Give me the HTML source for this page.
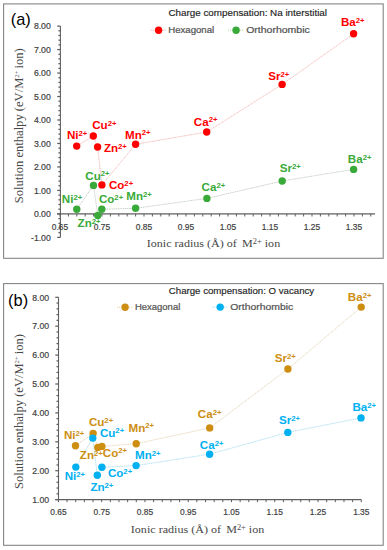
<!DOCTYPE html><html><head><meta charset="utf-8"><style>html,body{margin:0;padding:0;background:#fff;width:387px;height:550px;overflow:hidden}svg{display:block}</style></head><body>
<svg width="387" height="550" viewBox="0 0 387 550">
<rect width="387" height="550" fill="#fff"/>
<rect x="3.6" y="3.9" width="379.6" height="254.4" fill="#fff" stroke="#858585" stroke-width="1.1"/>
<text x="10.8" y="24.9" font-family='"Liberation Sans", sans-serif' font-size="16.4" fill="#000">(a)</text>
<text x="168.4" y="15.9" font-family='"Liberation Sans", sans-serif' font-size="9.8" fill="#222" stroke="#222" stroke-width="0.15" textLength="158.6" lengthAdjust="spacingAndGlyphs">Charge compensation: Na interstitial</text>
<line x1="150.6" y1="30.2" x2="166.6" y2="30.2" stroke="#f3a0a0" stroke-width="1" stroke-dasharray="1 1"/>
<circle cx="158.6" cy="30.2" r="3.7" fill="#ff0000"/>
<text x="168.2" y="33.4" font-family='"Liberation Sans", sans-serif' font-size="8.6" fill="#555" stroke="#555" stroke-width="0.22" textLength="46" lengthAdjust="spacingAndGlyphs">Hexagonal</text>
<line x1="228.1" y1="30.2" x2="244.1" y2="30.2" stroke="#a8d4a8" stroke-width="1" stroke-dasharray="1 1"/>
<circle cx="236.1" cy="30.2" r="3.7" fill="#39aa39"/>
<text x="246.2" y="33.4" font-family='"Liberation Sans", sans-serif' font-size="8.6" fill="#555" stroke="#555" stroke-width="0.22" textLength="63.6" lengthAdjust="spacingAndGlyphs">Orthorhombic</text>
<line x1="60.4" y1="26.099999999999994" x2="60.4" y2="237.375" stroke="#5f5f5f" stroke-width="1.1"/>
<line x1="57.199999999999996" y1="237.38" x2="60.4" y2="237.38" stroke="#5f5f5f" stroke-width="1.25"/>
<line x1="58.4" y1="232.68" x2="60.4" y2="232.68" stroke="#5f5f5f" stroke-width="1.25"/>
<line x1="58.4" y1="227.99" x2="60.4" y2="227.99" stroke="#5f5f5f" stroke-width="1.25"/>
<line x1="58.4" y1="223.29" x2="60.4" y2="223.29" stroke="#5f5f5f" stroke-width="1.25"/>
<line x1="58.4" y1="218.59" x2="60.4" y2="218.59" stroke="#5f5f5f" stroke-width="1.25"/>
<line x1="57.199999999999996" y1="213.90" x2="60.4" y2="213.90" stroke="#5f5f5f" stroke-width="1.25"/>
<line x1="58.4" y1="209.21" x2="60.4" y2="209.21" stroke="#5f5f5f" stroke-width="1.25"/>
<line x1="58.4" y1="204.51" x2="60.4" y2="204.51" stroke="#5f5f5f" stroke-width="1.25"/>
<line x1="58.4" y1="199.81" x2="60.4" y2="199.81" stroke="#5f5f5f" stroke-width="1.25"/>
<line x1="58.4" y1="195.12" x2="60.4" y2="195.12" stroke="#5f5f5f" stroke-width="1.25"/>
<line x1="57.199999999999996" y1="190.43" x2="60.4" y2="190.43" stroke="#5f5f5f" stroke-width="1.25"/>
<line x1="58.4" y1="185.73" x2="60.4" y2="185.73" stroke="#5f5f5f" stroke-width="1.25"/>
<line x1="58.4" y1="181.03" x2="60.4" y2="181.03" stroke="#5f5f5f" stroke-width="1.25"/>
<line x1="58.4" y1="176.34" x2="60.4" y2="176.34" stroke="#5f5f5f" stroke-width="1.25"/>
<line x1="58.4" y1="171.64" x2="60.4" y2="171.64" stroke="#5f5f5f" stroke-width="1.25"/>
<line x1="57.199999999999996" y1="166.95" x2="60.4" y2="166.95" stroke="#5f5f5f" stroke-width="1.25"/>
<line x1="58.4" y1="162.25" x2="60.4" y2="162.25" stroke="#5f5f5f" stroke-width="1.25"/>
<line x1="58.4" y1="157.56" x2="60.4" y2="157.56" stroke="#5f5f5f" stroke-width="1.25"/>
<line x1="58.4" y1="152.87" x2="60.4" y2="152.87" stroke="#5f5f5f" stroke-width="1.25"/>
<line x1="58.4" y1="148.17" x2="60.4" y2="148.17" stroke="#5f5f5f" stroke-width="1.25"/>
<line x1="57.199999999999996" y1="143.47" x2="60.4" y2="143.47" stroke="#5f5f5f" stroke-width="1.25"/>
<line x1="58.4" y1="138.78" x2="60.4" y2="138.78" stroke="#5f5f5f" stroke-width="1.25"/>
<line x1="58.4" y1="134.08" x2="60.4" y2="134.08" stroke="#5f5f5f" stroke-width="1.25"/>
<line x1="58.4" y1="129.39" x2="60.4" y2="129.39" stroke="#5f5f5f" stroke-width="1.25"/>
<line x1="58.4" y1="124.69" x2="60.4" y2="124.69" stroke="#5f5f5f" stroke-width="1.25"/>
<line x1="57.199999999999996" y1="120.00" x2="60.4" y2="120.00" stroke="#5f5f5f" stroke-width="1.25"/>
<line x1="58.4" y1="115.30" x2="60.4" y2="115.30" stroke="#5f5f5f" stroke-width="1.25"/>
<line x1="58.4" y1="110.61" x2="60.4" y2="110.61" stroke="#5f5f5f" stroke-width="1.25"/>
<line x1="58.4" y1="105.91" x2="60.4" y2="105.91" stroke="#5f5f5f" stroke-width="1.25"/>
<line x1="58.4" y1="101.22" x2="60.4" y2="101.22" stroke="#5f5f5f" stroke-width="1.25"/>
<line x1="57.199999999999996" y1="96.53" x2="60.4" y2="96.53" stroke="#5f5f5f" stroke-width="1.25"/>
<line x1="58.4" y1="91.83" x2="60.4" y2="91.83" stroke="#5f5f5f" stroke-width="1.25"/>
<line x1="58.4" y1="87.13" x2="60.4" y2="87.13" stroke="#5f5f5f" stroke-width="1.25"/>
<line x1="58.4" y1="82.44" x2="60.4" y2="82.44" stroke="#5f5f5f" stroke-width="1.25"/>
<line x1="58.4" y1="77.74" x2="60.4" y2="77.74" stroke="#5f5f5f" stroke-width="1.25"/>
<line x1="57.199999999999996" y1="73.05" x2="60.4" y2="73.05" stroke="#5f5f5f" stroke-width="1.25"/>
<line x1="58.4" y1="68.35" x2="60.4" y2="68.35" stroke="#5f5f5f" stroke-width="1.25"/>
<line x1="58.4" y1="63.66" x2="60.4" y2="63.66" stroke="#5f5f5f" stroke-width="1.25"/>
<line x1="58.4" y1="58.96" x2="60.4" y2="58.96" stroke="#5f5f5f" stroke-width="1.25"/>
<line x1="58.4" y1="54.27" x2="60.4" y2="54.27" stroke="#5f5f5f" stroke-width="1.25"/>
<line x1="57.199999999999996" y1="49.57" x2="60.4" y2="49.57" stroke="#5f5f5f" stroke-width="1.25"/>
<line x1="58.4" y1="44.88" x2="60.4" y2="44.88" stroke="#5f5f5f" stroke-width="1.25"/>
<line x1="58.4" y1="40.18" x2="60.4" y2="40.18" stroke="#5f5f5f" stroke-width="1.25"/>
<line x1="58.4" y1="35.49" x2="60.4" y2="35.49" stroke="#5f5f5f" stroke-width="1.25"/>
<line x1="58.4" y1="30.79" x2="60.4" y2="30.79" stroke="#5f5f5f" stroke-width="1.25"/>
<line x1="57.199999999999996" y1="26.10" x2="60.4" y2="26.10" stroke="#5f5f5f" stroke-width="1.25"/>
<text x="50.8" y="240.57" text-anchor="end" font-family='"Liberation Sans", sans-serif' font-size="8.7" fill="#404040" stroke="#404040" stroke-width="0.18">-1.00</text>
<text x="50.8" y="217.10" text-anchor="end" font-family='"Liberation Sans", sans-serif' font-size="8.7" fill="#404040" stroke="#404040" stroke-width="0.18">0.00</text>
<text x="50.8" y="193.62" text-anchor="end" font-family='"Liberation Sans", sans-serif' font-size="8.7" fill="#404040" stroke="#404040" stroke-width="0.18">1.00</text>
<text x="50.8" y="170.15" text-anchor="end" font-family='"Liberation Sans", sans-serif' font-size="8.7" fill="#404040" stroke="#404040" stroke-width="0.18">2.00</text>
<text x="50.8" y="146.67" text-anchor="end" font-family='"Liberation Sans", sans-serif' font-size="8.7" fill="#404040" stroke="#404040" stroke-width="0.18">3.00</text>
<text x="50.8" y="123.20" text-anchor="end" font-family='"Liberation Sans", sans-serif' font-size="8.7" fill="#404040" stroke="#404040" stroke-width="0.18">4.00</text>
<text x="50.8" y="99.73" text-anchor="end" font-family='"Liberation Sans", sans-serif' font-size="8.7" fill="#404040" stroke="#404040" stroke-width="0.18">5.00</text>
<text x="50.8" y="76.25" text-anchor="end" font-family='"Liberation Sans", sans-serif' font-size="8.7" fill="#404040" stroke="#404040" stroke-width="0.18">6.00</text>
<text x="50.8" y="52.77" text-anchor="end" font-family='"Liberation Sans", sans-serif' font-size="8.7" fill="#404040" stroke="#404040" stroke-width="0.18">7.00</text>
<text x="50.8" y="29.30" text-anchor="end" font-family='"Liberation Sans", sans-serif' font-size="8.7" fill="#404040" stroke="#404040" stroke-width="0.18">8.00</text>
<line x1="57" y1="213.9" x2="374.99999999999994" y2="213.9" stroke="#5f5f5f" stroke-width="1.15"/>
<line x1="60.00" y1="213.9" x2="60.00" y2="216.5" stroke="#5f5f5f" stroke-width="1"/>
<line x1="68.40" y1="213.9" x2="68.40" y2="216.5" stroke="#5f5f5f" stroke-width="1"/>
<line x1="76.80" y1="213.9" x2="76.80" y2="216.5" stroke="#5f5f5f" stroke-width="1"/>
<line x1="85.20" y1="213.9" x2="85.20" y2="216.5" stroke="#5f5f5f" stroke-width="1"/>
<line x1="93.60" y1="213.9" x2="93.60" y2="216.5" stroke="#5f5f5f" stroke-width="1"/>
<line x1="102.00" y1="213.9" x2="102.00" y2="216.5" stroke="#5f5f5f" stroke-width="1"/>
<line x1="110.40" y1="213.9" x2="110.40" y2="216.5" stroke="#5f5f5f" stroke-width="1"/>
<line x1="118.80" y1="213.9" x2="118.80" y2="216.5" stroke="#5f5f5f" stroke-width="1"/>
<line x1="127.20" y1="213.9" x2="127.20" y2="216.5" stroke="#5f5f5f" stroke-width="1"/>
<line x1="135.60" y1="213.9" x2="135.60" y2="216.5" stroke="#5f5f5f" stroke-width="1"/>
<line x1="144.00" y1="213.9" x2="144.00" y2="216.5" stroke="#5f5f5f" stroke-width="1"/>
<line x1="152.40" y1="213.9" x2="152.40" y2="216.5" stroke="#5f5f5f" stroke-width="1"/>
<line x1="160.80" y1="213.9" x2="160.80" y2="216.5" stroke="#5f5f5f" stroke-width="1"/>
<line x1="169.20" y1="213.9" x2="169.20" y2="216.5" stroke="#5f5f5f" stroke-width="1"/>
<line x1="177.60" y1="213.9" x2="177.60" y2="216.5" stroke="#5f5f5f" stroke-width="1"/>
<line x1="186.00" y1="213.9" x2="186.00" y2="216.5" stroke="#5f5f5f" stroke-width="1"/>
<line x1="194.40" y1="213.9" x2="194.40" y2="216.5" stroke="#5f5f5f" stroke-width="1"/>
<line x1="202.80" y1="213.9" x2="202.80" y2="216.5" stroke="#5f5f5f" stroke-width="1"/>
<line x1="211.20" y1="213.9" x2="211.20" y2="216.5" stroke="#5f5f5f" stroke-width="1"/>
<line x1="219.60" y1="213.9" x2="219.60" y2="216.5" stroke="#5f5f5f" stroke-width="1"/>
<line x1="228.00" y1="213.9" x2="228.00" y2="216.5" stroke="#5f5f5f" stroke-width="1"/>
<line x1="236.40" y1="213.9" x2="236.40" y2="216.5" stroke="#5f5f5f" stroke-width="1"/>
<line x1="244.80" y1="213.9" x2="244.80" y2="216.5" stroke="#5f5f5f" stroke-width="1"/>
<line x1="253.20" y1="213.9" x2="253.20" y2="216.5" stroke="#5f5f5f" stroke-width="1"/>
<line x1="261.60" y1="213.9" x2="261.60" y2="216.5" stroke="#5f5f5f" stroke-width="1"/>
<line x1="270.00" y1="213.9" x2="270.00" y2="216.5" stroke="#5f5f5f" stroke-width="1"/>
<line x1="278.40" y1="213.9" x2="278.40" y2="216.5" stroke="#5f5f5f" stroke-width="1"/>
<line x1="286.80" y1="213.9" x2="286.80" y2="216.5" stroke="#5f5f5f" stroke-width="1"/>
<line x1="295.20" y1="213.9" x2="295.20" y2="216.5" stroke="#5f5f5f" stroke-width="1"/>
<line x1="303.60" y1="213.9" x2="303.60" y2="216.5" stroke="#5f5f5f" stroke-width="1"/>
<line x1="312.00" y1="213.9" x2="312.00" y2="216.5" stroke="#5f5f5f" stroke-width="1"/>
<line x1="320.40" y1="213.9" x2="320.40" y2="216.5" stroke="#5f5f5f" stroke-width="1"/>
<line x1="328.80" y1="213.9" x2="328.80" y2="216.5" stroke="#5f5f5f" stroke-width="1"/>
<line x1="337.20" y1="213.9" x2="337.20" y2="216.5" stroke="#5f5f5f" stroke-width="1"/>
<line x1="345.60" y1="213.9" x2="345.60" y2="216.5" stroke="#5f5f5f" stroke-width="1"/>
<line x1="354.00" y1="213.9" x2="354.00" y2="216.5" stroke="#5f5f5f" stroke-width="1"/>
<line x1="362.40" y1="213.9" x2="362.40" y2="216.5" stroke="#5f5f5f" stroke-width="1"/>
<line x1="370.80" y1="213.9" x2="370.80" y2="216.5" stroke="#5f5f5f" stroke-width="1"/>
<text x="60.00" y="229.8" text-anchor="middle" font-family='"Liberation Sans", sans-serif' font-size="8.4" fill="#404040" stroke="#404040" stroke-width="0.18">0.65</text>
<text x="102.00" y="229.8" text-anchor="middle" font-family='"Liberation Sans", sans-serif' font-size="8.4" fill="#404040" stroke="#404040" stroke-width="0.18">0.75</text>
<text x="144.00" y="229.8" text-anchor="middle" font-family='"Liberation Sans", sans-serif' font-size="8.4" fill="#404040" stroke="#404040" stroke-width="0.18">0.85</text>
<text x="186.00" y="229.8" text-anchor="middle" font-family='"Liberation Sans", sans-serif' font-size="8.4" fill="#404040" stroke="#404040" stroke-width="0.18">0.95</text>
<text x="228.00" y="229.8" text-anchor="middle" font-family='"Liberation Sans", sans-serif' font-size="8.4" fill="#404040" stroke="#404040" stroke-width="0.18">1.05</text>
<text x="270.00" y="229.8" text-anchor="middle" font-family='"Liberation Sans", sans-serif' font-size="8.4" fill="#404040" stroke="#404040" stroke-width="0.18">1.15</text>
<text x="312.00" y="229.8" text-anchor="middle" font-family='"Liberation Sans", sans-serif' font-size="8.4" fill="#404040" stroke="#404040" stroke-width="0.18">1.25</text>
<text x="354.00" y="229.8" text-anchor="middle" font-family='"Liberation Sans", sans-serif' font-size="8.4" fill="#404040" stroke="#404040" stroke-width="0.18">1.35</text>
<text x="146.7" y="247" font-family='"Liberation Serif", serif' font-size="11" fill="#474747" style="white-space:pre" textLength="133.5" lengthAdjust="spacingAndGlyphs">Ionic radius (Å) of <tspan dx="2">M</tspan><tspan font-size="7.6" dy="-3.3">2+</tspan><tspan dy="3.3"> ion</tspan></text>
<text transform="translate(23,203.3) rotate(-90)" x="0" y="0" font-family='"Liberation Serif", serif' font-size="12" fill="#474747" textLength="155" lengthAdjust="spacingAndGlyphs">Solution enthalpy (eV/M<tspan font-size="6.3" dy="-3.6">2+</tspan><tspan dy="3.6" dx="2">ion)</tspan></text>
<polyline points="76.7,146.1 93.3,136.0 97.6,147.0 101.9,184.9 135.6,144.3 206.7,132.0 282.1,84.4 353.6,33.8" fill="none" stroke="#f3b4b4" stroke-width="0.9" stroke-dasharray="1.2 0.6"/>
<polyline points="76.8,209.2 93.5,185.4 97.8,215.5 101.8,209.2 135.6,208.3 206.9,198.4 282.2,181.0 353.6,169.4" fill="none" stroke="#c0ccc0" stroke-width="0.9" stroke-dasharray="1.2 0.6"/>
<circle cx="76.7" cy="146.1" r="3.7" fill="#ff0000"/>
<circle cx="93.3" cy="136.0" r="3.7" fill="#ff0000"/>
<circle cx="97.6" cy="147.0" r="3.7" fill="#ff0000"/>
<circle cx="101.9" cy="184.9" r="3.7" fill="#ff0000"/>
<circle cx="135.6" cy="144.3" r="3.7" fill="#ff0000"/>
<circle cx="206.7" cy="132.0" r="3.7" fill="#ff0000"/>
<circle cx="282.1" cy="84.4" r="3.7" fill="#ff0000"/>
<circle cx="353.6" cy="33.8" r="3.7" fill="#ff0000"/>
<circle cx="76.8" cy="209.2" r="3.7" fill="#39aa39"/>
<circle cx="93.5" cy="185.4" r="3.7" fill="#39aa39"/>
<circle cx="97.8" cy="215.5" r="3.7" fill="#39aa39"/>
<circle cx="101.8" cy="209.2" r="3.7" fill="#39aa39"/>
<circle cx="135.6" cy="208.3" r="3.7" fill="#39aa39"/>
<circle cx="206.9" cy="198.4" r="3.7" fill="#39aa39"/>
<circle cx="282.2" cy="181.0" r="3.7" fill="#39aa39"/>
<circle cx="353.6" cy="169.4" r="3.7" fill="#39aa39"/>
<text x="66.9" y="138.7" fill="#ff0000" font-family='"Liberation Sans", sans-serif' font-weight="bold" font-size="11.6">Ni</text>
<text x="66.9" y="138.7" fill="#ff0000" font-family='"Liberation Sans", sans-serif' font-weight="bold" font-size="11.6"><tspan visibility="hidden">Ni</tspan><tspan font-size="7.7" dy="-3.2">2+</tspan></text>
<text x="92.2" y="128.7" fill="#ff0000" font-family='"Liberation Sans", sans-serif' font-weight="bold" font-size="11.6">Cu</text>
<text x="92.2" y="128.7" fill="#ff0000" font-family='"Liberation Sans", sans-serif' font-weight="bold" font-size="11.6"><tspan visibility="hidden">Cu</tspan><tspan font-size="7.7" dy="-3.2">2+</tspan></text>
<text x="103.9" y="151.7" fill="#ff0000" font-family='"Liberation Sans", sans-serif' font-weight="bold" font-size="11.6">Zn</text>
<text x="103.9" y="151.7" fill="#ff0000" font-family='"Liberation Sans", sans-serif' font-weight="bold" font-size="11.6"><tspan visibility="hidden">Zn</tspan><tspan font-size="7.7" dy="-3.2">2+</tspan></text>
<text x="108.9" y="188.9" fill="#ff0000" font-family='"Liberation Sans", sans-serif' font-weight="bold" font-size="11.6">Co</text>
<text x="108.9" y="188.9" fill="#ff0000" font-family='"Liberation Sans", sans-serif' font-weight="bold" font-size="11.6"><tspan visibility="hidden">Co</tspan><tspan font-size="7.7" dy="-3.2">2+</tspan></text>
<text x="125.1" y="138.6" fill="#ff0000" font-family='"Liberation Sans", sans-serif' font-weight="bold" font-size="11.6">Mn</text>
<text x="125.1" y="138.6" fill="#ff0000" font-family='"Liberation Sans", sans-serif' font-weight="bold" font-size="11.6"><tspan visibility="hidden">Mn</tspan><tspan font-size="7.7" dy="-3.2">2+</tspan></text>
<text x="193.8" y="125.6" fill="#ff0000" font-family='"Liberation Sans", sans-serif' font-weight="bold" font-size="11.6">Ca</text>
<text x="193.8" y="125.6" fill="#ff0000" font-family='"Liberation Sans", sans-serif' font-weight="bold" font-size="11.6"><tspan visibility="hidden">Ca</tspan><tspan font-size="7.7" dy="-3.2">2+</tspan></text>
<text x="268.3" y="80" fill="#ff0000" font-family='"Liberation Sans", sans-serif' font-weight="bold" font-size="11.6">Sr</text>
<text x="268.3" y="80" fill="#ff0000" font-family='"Liberation Sans", sans-serif' font-weight="bold" font-size="11.6"><tspan visibility="hidden">Sr</tspan><tspan font-size="7.7" dy="-3.2">2+</tspan></text>
<text x="341" y="26.2" fill="#ff0000" font-family='"Liberation Sans", sans-serif' font-weight="bold" font-size="11.6">Ba</text>
<text x="341" y="26.2" fill="#ff0000" font-family='"Liberation Sans", sans-serif' font-weight="bold" font-size="11.6"><tspan visibility="hidden">Ba</tspan><tspan font-size="7.7" dy="-3.2">2+</tspan></text>
<text x="61.8" y="203.3" fill="#39aa39" font-family='"Liberation Sans", sans-serif' font-weight="bold" font-size="11.6">Ni</text>
<text x="61.8" y="203.3" fill="#39aa39" font-family='"Liberation Sans", sans-serif' font-weight="bold" font-size="11.6"><tspan visibility="hidden">Ni</tspan><tspan font-size="7.7" dy="-3.2">2+</tspan></text>
<text x="85.3" y="179.6" fill="#39aa39" font-family='"Liberation Sans", sans-serif' font-weight="bold" font-size="11.6">Cu</text>
<text x="85.3" y="179.6" fill="#39aa39" font-family='"Liberation Sans", sans-serif' font-weight="bold" font-size="11.6"><tspan visibility="hidden">Cu</tspan><tspan font-size="7.7" dy="-3.2">2+</tspan></text>
<text x="77.6" y="226.7" fill="#39aa39" font-family='"Liberation Sans", sans-serif' font-weight="bold" font-size="11.6">Zn</text>
<text x="77.6" y="226.7" fill="#39aa39" font-family='"Liberation Sans", sans-serif' font-weight="bold" font-size="11.6"><tspan visibility="hidden">Zn</tspan><tspan font-size="7.7" dy="-3.2">2+</tspan></text>
<text x="98.9" y="203.3" fill="#39aa39" font-family='"Liberation Sans", sans-serif' font-weight="bold" font-size="11.6">Co</text>
<text x="98.9" y="203.3" fill="#39aa39" font-family='"Liberation Sans", sans-serif' font-weight="bold" font-size="11.6"><tspan visibility="hidden">Co</tspan><tspan font-size="7.7" dy="-3.2">2+</tspan></text>
<text x="126.3" y="200.1" fill="#39aa39" font-family='"Liberation Sans", sans-serif' font-weight="bold" font-size="11.6">Mn</text>
<text x="126.3" y="200.1" fill="#39aa39" font-family='"Liberation Sans", sans-serif' font-weight="bold" font-size="11.6"><tspan visibility="hidden">Mn</tspan><tspan font-size="7.7" dy="-3.2">2+</tspan></text>
<text x="201.6" y="191.1" fill="#39aa39" font-family='"Liberation Sans", sans-serif' font-weight="bold" font-size="11.6">Ca</text>
<text x="201.6" y="191.1" fill="#39aa39" font-family='"Liberation Sans", sans-serif' font-weight="bold" font-size="11.6"><tspan visibility="hidden">Ca</tspan><tspan font-size="7.7" dy="-3.2">2+</tspan></text>
<text x="279.8" y="172.2" fill="#39aa39" font-family='"Liberation Sans", sans-serif' font-weight="bold" font-size="11.6">Sr</text>
<text x="279.8" y="172.2" fill="#39aa39" font-family='"Liberation Sans", sans-serif' font-weight="bold" font-size="11.6"><tspan visibility="hidden">Sr</tspan><tspan font-size="7.7" dy="-3.2">2+</tspan></text>
<text x="347.8" y="162.8" fill="#39aa39" font-family='"Liberation Sans", sans-serif' font-weight="bold" font-size="11.6">Ba</text>
<text x="347.8" y="162.8" fill="#39aa39" font-family='"Liberation Sans", sans-serif' font-weight="bold" font-size="11.6"><tspan visibility="hidden">Ba</tspan><tspan font-size="7.7" dy="-3.2">2+</tspan></text>
<rect x="3.6" y="283.6" width="379.6" height="261.69999999999993" fill="#fff" stroke="#858585" stroke-width="1.1"/>
<text x="8.1" y="306.4" font-family='"Liberation Sans", sans-serif' font-size="16.4" fill="#000">(b)</text>
<text x="168.8" y="294.1" font-family='"Liberation Sans", sans-serif' font-size="9.8" fill="#222" stroke="#222" stroke-width="0.15" textLength="145.4" lengthAdjust="spacingAndGlyphs">Charge compensation: O vacancy</text>
<line x1="117.1" y1="307.2" x2="133.1" y2="307.2" stroke="#e6c98a" stroke-width="1" stroke-dasharray="1 1"/>
<circle cx="125.1" cy="307.2" r="3.7" fill="#cd8e12"/>
<text x="134.9" y="310.4" font-family='"Liberation Sans", sans-serif' font-size="8.6" fill="#555" stroke="#555" stroke-width="0.22" textLength="45.4" lengthAdjust="spacingAndGlyphs">Hexagonal</text>
<line x1="212.2" y1="307.1" x2="228.2" y2="307.1" stroke="#8fd8f5" stroke-width="1" stroke-dasharray="1 1"/>
<circle cx="220.2" cy="307.1" r="3.7" fill="#00b0f0"/>
<text x="230.3" y="310.3" font-family='"Liberation Sans", sans-serif' font-size="8.6" fill="#555" stroke="#555" stroke-width="0.22" textLength="62.9" lengthAdjust="spacingAndGlyphs">Orthorhombic</text>
<line x1="58.5" y1="297.3" x2="58.5" y2="499.6" stroke="#5f5f5f" stroke-width="1.1"/>
<line x1="55.3" y1="499.60" x2="58.5" y2="499.60" stroke="#5f5f5f" stroke-width="1.25"/>
<line x1="56.5" y1="493.82" x2="58.5" y2="493.82" stroke="#5f5f5f" stroke-width="1.25"/>
<line x1="56.5" y1="488.04" x2="58.5" y2="488.04" stroke="#5f5f5f" stroke-width="1.25"/>
<line x1="56.5" y1="482.26" x2="58.5" y2="482.26" stroke="#5f5f5f" stroke-width="1.25"/>
<line x1="56.5" y1="476.48" x2="58.5" y2="476.48" stroke="#5f5f5f" stroke-width="1.25"/>
<line x1="55.3" y1="470.70" x2="58.5" y2="470.70" stroke="#5f5f5f" stroke-width="1.25"/>
<line x1="56.5" y1="464.92" x2="58.5" y2="464.92" stroke="#5f5f5f" stroke-width="1.25"/>
<line x1="56.5" y1="459.14" x2="58.5" y2="459.14" stroke="#5f5f5f" stroke-width="1.25"/>
<line x1="56.5" y1="453.36" x2="58.5" y2="453.36" stroke="#5f5f5f" stroke-width="1.25"/>
<line x1="56.5" y1="447.58" x2="58.5" y2="447.58" stroke="#5f5f5f" stroke-width="1.25"/>
<line x1="55.3" y1="441.80" x2="58.5" y2="441.80" stroke="#5f5f5f" stroke-width="1.25"/>
<line x1="56.5" y1="436.02" x2="58.5" y2="436.02" stroke="#5f5f5f" stroke-width="1.25"/>
<line x1="56.5" y1="430.24" x2="58.5" y2="430.24" stroke="#5f5f5f" stroke-width="1.25"/>
<line x1="56.5" y1="424.46" x2="58.5" y2="424.46" stroke="#5f5f5f" stroke-width="1.25"/>
<line x1="56.5" y1="418.68" x2="58.5" y2="418.68" stroke="#5f5f5f" stroke-width="1.25"/>
<line x1="55.3" y1="412.90" x2="58.5" y2="412.90" stroke="#5f5f5f" stroke-width="1.25"/>
<line x1="56.5" y1="407.12" x2="58.5" y2="407.12" stroke="#5f5f5f" stroke-width="1.25"/>
<line x1="56.5" y1="401.34" x2="58.5" y2="401.34" stroke="#5f5f5f" stroke-width="1.25"/>
<line x1="56.5" y1="395.56" x2="58.5" y2="395.56" stroke="#5f5f5f" stroke-width="1.25"/>
<line x1="56.5" y1="389.78" x2="58.5" y2="389.78" stroke="#5f5f5f" stroke-width="1.25"/>
<line x1="55.3" y1="384.00" x2="58.5" y2="384.00" stroke="#5f5f5f" stroke-width="1.25"/>
<line x1="56.5" y1="378.22" x2="58.5" y2="378.22" stroke="#5f5f5f" stroke-width="1.25"/>
<line x1="56.5" y1="372.44" x2="58.5" y2="372.44" stroke="#5f5f5f" stroke-width="1.25"/>
<line x1="56.5" y1="366.66" x2="58.5" y2="366.66" stroke="#5f5f5f" stroke-width="1.25"/>
<line x1="56.5" y1="360.88" x2="58.5" y2="360.88" stroke="#5f5f5f" stroke-width="1.25"/>
<line x1="55.3" y1="355.10" x2="58.5" y2="355.10" stroke="#5f5f5f" stroke-width="1.25"/>
<line x1="56.5" y1="349.32" x2="58.5" y2="349.32" stroke="#5f5f5f" stroke-width="1.25"/>
<line x1="56.5" y1="343.54" x2="58.5" y2="343.54" stroke="#5f5f5f" stroke-width="1.25"/>
<line x1="56.5" y1="337.76" x2="58.5" y2="337.76" stroke="#5f5f5f" stroke-width="1.25"/>
<line x1="56.5" y1="331.98" x2="58.5" y2="331.98" stroke="#5f5f5f" stroke-width="1.25"/>
<line x1="55.3" y1="326.20" x2="58.5" y2="326.20" stroke="#5f5f5f" stroke-width="1.25"/>
<line x1="56.5" y1="320.42" x2="58.5" y2="320.42" stroke="#5f5f5f" stroke-width="1.25"/>
<line x1="56.5" y1="314.64" x2="58.5" y2="314.64" stroke="#5f5f5f" stroke-width="1.25"/>
<line x1="56.5" y1="308.86" x2="58.5" y2="308.86" stroke="#5f5f5f" stroke-width="1.25"/>
<line x1="56.5" y1="303.08" x2="58.5" y2="303.08" stroke="#5f5f5f" stroke-width="1.25"/>
<line x1="55.3" y1="297.30" x2="58.5" y2="297.30" stroke="#5f5f5f" stroke-width="1.25"/>
<text x="49.1" y="502.80" text-anchor="end" font-family='"Liberation Sans", sans-serif' font-size="8.7" fill="#404040" stroke="#404040" stroke-width="0.18">1.00</text>
<text x="49.1" y="473.90" text-anchor="end" font-family='"Liberation Sans", sans-serif' font-size="8.7" fill="#404040" stroke="#404040" stroke-width="0.18">2.00</text>
<text x="49.1" y="445.00" text-anchor="end" font-family='"Liberation Sans", sans-serif' font-size="8.7" fill="#404040" stroke="#404040" stroke-width="0.18">3.00</text>
<text x="49.1" y="416.10" text-anchor="end" font-family='"Liberation Sans", sans-serif' font-size="8.7" fill="#404040" stroke="#404040" stroke-width="0.18">4.00</text>
<text x="49.1" y="387.20" text-anchor="end" font-family='"Liberation Sans", sans-serif' font-size="8.7" fill="#404040" stroke="#404040" stroke-width="0.18">5.00</text>
<text x="49.1" y="358.30" text-anchor="end" font-family='"Liberation Sans", sans-serif' font-size="8.7" fill="#404040" stroke="#404040" stroke-width="0.18">6.00</text>
<text x="49.1" y="329.40" text-anchor="end" font-family='"Liberation Sans", sans-serif' font-size="8.7" fill="#404040" stroke="#404040" stroke-width="0.18">7.00</text>
<text x="49.1" y="300.50" text-anchor="end" font-family='"Liberation Sans", sans-serif' font-size="8.7" fill="#404040" stroke="#404040" stroke-width="0.18">8.00</text>
<line x1="55.3" y1="499.6" x2="361.29" y2="499.6" stroke="#5f5f5f" stroke-width="1.15"/>
<line x1="58.40" y1="499.6" x2="58.40" y2="502.20000000000005" stroke="#5f5f5f" stroke-width="1"/>
<line x1="67.05" y1="499.6" x2="67.05" y2="502.20000000000005" stroke="#5f5f5f" stroke-width="1"/>
<line x1="75.71" y1="499.6" x2="75.71" y2="502.20000000000005" stroke="#5f5f5f" stroke-width="1"/>
<line x1="84.36" y1="499.6" x2="84.36" y2="502.20000000000005" stroke="#5f5f5f" stroke-width="1"/>
<line x1="93.02" y1="499.6" x2="93.02" y2="502.20000000000005" stroke="#5f5f5f" stroke-width="1"/>
<line x1="101.67" y1="499.6" x2="101.67" y2="502.20000000000005" stroke="#5f5f5f" stroke-width="1"/>
<line x1="110.32" y1="499.6" x2="110.32" y2="502.20000000000005" stroke="#5f5f5f" stroke-width="1"/>
<line x1="118.98" y1="499.6" x2="118.98" y2="502.20000000000005" stroke="#5f5f5f" stroke-width="1"/>
<line x1="127.63" y1="499.6" x2="127.63" y2="502.20000000000005" stroke="#5f5f5f" stroke-width="1"/>
<line x1="136.29" y1="499.6" x2="136.29" y2="502.20000000000005" stroke="#5f5f5f" stroke-width="1"/>
<line x1="144.94" y1="499.6" x2="144.94" y2="502.20000000000005" stroke="#5f5f5f" stroke-width="1"/>
<line x1="153.59" y1="499.6" x2="153.59" y2="502.20000000000005" stroke="#5f5f5f" stroke-width="1"/>
<line x1="162.25" y1="499.6" x2="162.25" y2="502.20000000000005" stroke="#5f5f5f" stroke-width="1"/>
<line x1="170.90" y1="499.6" x2="170.90" y2="502.20000000000005" stroke="#5f5f5f" stroke-width="1"/>
<line x1="179.56" y1="499.6" x2="179.56" y2="502.20000000000005" stroke="#5f5f5f" stroke-width="1"/>
<line x1="188.21" y1="499.6" x2="188.21" y2="502.20000000000005" stroke="#5f5f5f" stroke-width="1"/>
<line x1="196.86" y1="499.6" x2="196.86" y2="502.20000000000005" stroke="#5f5f5f" stroke-width="1"/>
<line x1="205.52" y1="499.6" x2="205.52" y2="502.20000000000005" stroke="#5f5f5f" stroke-width="1"/>
<line x1="214.17" y1="499.6" x2="214.17" y2="502.20000000000005" stroke="#5f5f5f" stroke-width="1"/>
<line x1="222.83" y1="499.6" x2="222.83" y2="502.20000000000005" stroke="#5f5f5f" stroke-width="1"/>
<line x1="231.48" y1="499.6" x2="231.48" y2="502.20000000000005" stroke="#5f5f5f" stroke-width="1"/>
<line x1="240.13" y1="499.6" x2="240.13" y2="502.20000000000005" stroke="#5f5f5f" stroke-width="1"/>
<line x1="248.79" y1="499.6" x2="248.79" y2="502.20000000000005" stroke="#5f5f5f" stroke-width="1"/>
<line x1="257.44" y1="499.6" x2="257.44" y2="502.20000000000005" stroke="#5f5f5f" stroke-width="1"/>
<line x1="266.10" y1="499.6" x2="266.10" y2="502.20000000000005" stroke="#5f5f5f" stroke-width="1"/>
<line x1="274.75" y1="499.6" x2="274.75" y2="502.20000000000005" stroke="#5f5f5f" stroke-width="1"/>
<line x1="283.40" y1="499.6" x2="283.40" y2="502.20000000000005" stroke="#5f5f5f" stroke-width="1"/>
<line x1="292.06" y1="499.6" x2="292.06" y2="502.20000000000005" stroke="#5f5f5f" stroke-width="1"/>
<line x1="300.71" y1="499.6" x2="300.71" y2="502.20000000000005" stroke="#5f5f5f" stroke-width="1"/>
<line x1="309.37" y1="499.6" x2="309.37" y2="502.20000000000005" stroke="#5f5f5f" stroke-width="1"/>
<line x1="318.02" y1="499.6" x2="318.02" y2="502.20000000000005" stroke="#5f5f5f" stroke-width="1"/>
<line x1="326.67" y1="499.6" x2="326.67" y2="502.20000000000005" stroke="#5f5f5f" stroke-width="1"/>
<line x1="335.33" y1="499.6" x2="335.33" y2="502.20000000000005" stroke="#5f5f5f" stroke-width="1"/>
<line x1="343.98" y1="499.6" x2="343.98" y2="502.20000000000005" stroke="#5f5f5f" stroke-width="1"/>
<line x1="352.64" y1="499.6" x2="352.64" y2="502.20000000000005" stroke="#5f5f5f" stroke-width="1"/>
<line x1="361.29" y1="499.6" x2="361.29" y2="502.20000000000005" stroke="#5f5f5f" stroke-width="1"/>
<text x="58.40" y="515" text-anchor="middle" font-family='"Liberation Sans", sans-serif' font-size="8.4" fill="#404040" stroke="#404040" stroke-width="0.18">0.65</text>
<text x="101.67" y="515" text-anchor="middle" font-family='"Liberation Sans", sans-serif' font-size="8.4" fill="#404040" stroke="#404040" stroke-width="0.18">0.75</text>
<text x="144.94" y="515" text-anchor="middle" font-family='"Liberation Sans", sans-serif' font-size="8.4" fill="#404040" stroke="#404040" stroke-width="0.18">0.85</text>
<text x="188.21" y="515" text-anchor="middle" font-family='"Liberation Sans", sans-serif' font-size="8.4" fill="#404040" stroke="#404040" stroke-width="0.18">0.95</text>
<text x="231.48" y="515" text-anchor="middle" font-family='"Liberation Sans", sans-serif' font-size="8.4" fill="#404040" stroke="#404040" stroke-width="0.18">1.05</text>
<text x="274.75" y="515" text-anchor="middle" font-family='"Liberation Sans", sans-serif' font-size="8.4" fill="#404040" stroke="#404040" stroke-width="0.18">1.15</text>
<text x="318.02" y="515" text-anchor="middle" font-family='"Liberation Sans", sans-serif' font-size="8.4" fill="#404040" stroke="#404040" stroke-width="0.18">1.25</text>
<text x="361.29" y="515" text-anchor="middle" font-family='"Liberation Sans", sans-serif' font-size="8.4" fill="#404040" stroke="#404040" stroke-width="0.18">1.35</text>
<text x="130.8" y="532.8" font-family='"Liberation Serif", serif' font-size="11" fill="#474747" style="white-space:pre" textLength="133.5" lengthAdjust="spacingAndGlyphs">Ionic radius (Å) of <tspan dx="2">M</tspan><tspan font-size="7.6" dy="-3.3">2+</tspan><tspan dy="3.3"> ion</tspan></text>
<text transform="translate(23,489) rotate(-90)" x="0" y="0" font-family='"Liberation Serif", serif' font-size="12" fill="#474747" textLength="155" lengthAdjust="spacingAndGlyphs">Solution enthalpy (eV/M<tspan font-size="6.3" dy="-3.6">2+</tspan><tspan dy="3.6" dx="2">ion)</tspan></text>
<polyline points="75.5,445.8 93.1,433.4 97.8,447.4 101.9,446.4 136.2,443.7 209.7,427.9 287.9,369.0 361.2,307.1" fill="none" stroke="#e4d5b4" stroke-width="0.9" stroke-dasharray="1.2 0.6"/>
<polyline points="75.8,467.1 92.8,438.1 97.3,475.3 101.9,467.3 136.1,465.6 209.6,454.2 287.8,432.4 361.0,417.9" fill="none" stroke="#a8dcef" stroke-width="0.9" stroke-dasharray="1.2 0.6"/>
<circle cx="75.5" cy="445.8" r="3.7" fill="#cd8e12"/>
<circle cx="93.1" cy="433.4" r="3.7" fill="#cd8e12"/>
<circle cx="97.8" cy="447.4" r="3.7" fill="#cd8e12"/>
<circle cx="101.9" cy="446.4" r="3.7" fill="#cd8e12"/>
<circle cx="136.2" cy="443.7" r="3.7" fill="#cd8e12"/>
<circle cx="209.7" cy="427.9" r="3.7" fill="#cd8e12"/>
<circle cx="287.9" cy="369.0" r="3.7" fill="#cd8e12"/>
<circle cx="361.2" cy="307.1" r="3.7" fill="#cd8e12"/>
<circle cx="75.8" cy="467.1" r="3.7" fill="#00b0f0"/>
<circle cx="92.8" cy="438.1" r="3.7" fill="#00b0f0"/>
<circle cx="97.3" cy="475.3" r="3.7" fill="#00b0f0"/>
<circle cx="101.9" cy="467.3" r="3.7" fill="#00b0f0"/>
<circle cx="136.1" cy="465.6" r="3.7" fill="#00b0f0"/>
<circle cx="209.6" cy="454.2" r="3.7" fill="#00b0f0"/>
<circle cx="287.8" cy="432.4" r="3.7" fill="#00b0f0"/>
<circle cx="361.0" cy="417.9" r="3.7" fill="#00b0f0"/>
<text x="63.9" y="438.9" fill="#cd8e12" font-family='"Liberation Sans", sans-serif' font-weight="bold" font-size="11.6">Ni</text>
<text x="63.9" y="438.9" fill="#cd8e12" font-family='"Liberation Sans", sans-serif' font-weight="bold" font-size="11.6"><tspan visibility="hidden">Ni</tspan><tspan font-size="7.7" dy="-3.2">2+</tspan></text>
<text x="88.9" y="426.2" fill="#cd8e12" font-family='"Liberation Sans", sans-serif' font-weight="bold" font-size="11.6">Cu</text>
<text x="88.9" y="426.2" fill="#cd8e12" font-family='"Liberation Sans", sans-serif' font-weight="bold" font-size="11.6"><tspan visibility="hidden">Cu</tspan><tspan font-size="7.7" dy="-3.2">2+</tspan></text>
<text x="79.8" y="458.8" fill="#cd8e12" font-family='"Liberation Sans", sans-serif' font-weight="bold" font-size="11.6">Zn</text>
<text x="79.8" y="458.8" fill="#cd8e12" font-family='"Liberation Sans", sans-serif' font-weight="bold" font-size="11.6"><tspan visibility="hidden">Zn</tspan><tspan font-size="7.7" dy="-3.2">2+</tspan></text>
<text x="102.8" y="456.6" fill="#cd8e12" font-family='"Liberation Sans", sans-serif' font-weight="bold" font-size="11.6">Co</text>
<text x="102.8" y="456.6" fill="#cd8e12" font-family='"Liberation Sans", sans-serif' font-weight="bold" font-size="11.6"><tspan visibility="hidden">Co</tspan><tspan font-size="7.7" dy="-3.2">2+</tspan></text>
<text x="128.6" y="431.5" fill="#cd8e12" font-family='"Liberation Sans", sans-serif' font-weight="bold" font-size="11.6">Mn</text>
<text x="128.6" y="431.5" fill="#cd8e12" font-family='"Liberation Sans", sans-serif' font-weight="bold" font-size="11.6"><tspan visibility="hidden">Mn</tspan><tspan font-size="7.7" dy="-3.2">2+</tspan></text>
<text x="197.8" y="417.8" fill="#cd8e12" font-family='"Liberation Sans", sans-serif' font-weight="bold" font-size="11.6">Ca</text>
<text x="197.8" y="417.8" fill="#cd8e12" font-family='"Liberation Sans", sans-serif' font-weight="bold" font-size="11.6"><tspan visibility="hidden">Ca</tspan><tspan font-size="7.7" dy="-3.2">2+</tspan></text>
<text x="274.8" y="362" fill="#cd8e12" font-family='"Liberation Sans", sans-serif' font-weight="bold" font-size="11.6">Sr</text>
<text x="274.8" y="362" fill="#cd8e12" font-family='"Liberation Sans", sans-serif' font-weight="bold" font-size="11.6"><tspan visibility="hidden">Sr</tspan><tspan font-size="7.7" dy="-3.2">2+</tspan></text>
<text x="347.8" y="301.4" fill="#cd8e12" font-family='"Liberation Sans", sans-serif' font-weight="bold" font-size="11.6">Ba</text>
<text x="347.8" y="301.4" fill="#cd8e12" font-family='"Liberation Sans", sans-serif' font-weight="bold" font-size="11.6"><tspan visibility="hidden">Ba</tspan><tspan font-size="7.7" dy="-3.2">2+</tspan></text>
<text x="64.7" y="479.8" fill="#00b0f0" font-family='"Liberation Sans", sans-serif' font-weight="bold" font-size="11.6">Ni</text>
<text x="64.7" y="479.8" fill="#00b0f0" font-family='"Liberation Sans", sans-serif' font-weight="bold" font-size="11.6"><tspan visibility="hidden">Ni</tspan><tspan font-size="7.7" dy="-3.2">2+</tspan></text>
<text x="99.9" y="436.5" fill="#00b0f0" font-family='"Liberation Sans", sans-serif' font-weight="bold" font-size="11.6">Cu</text>
<text x="99.9" y="436.5" fill="#00b0f0" font-family='"Liberation Sans", sans-serif' font-weight="bold" font-size="11.6"><tspan visibility="hidden">Cu</tspan><tspan font-size="7.7" dy="-3.2">2+</tspan></text>
<text x="90.4" y="491.2" fill="#00b0f0" font-family='"Liberation Sans", sans-serif' font-weight="bold" font-size="11.6">Zn</text>
<text x="90.4" y="491.2" fill="#00b0f0" font-family='"Liberation Sans", sans-serif' font-weight="bold" font-size="11.6"><tspan visibility="hidden">Zn</tspan><tspan font-size="7.7" dy="-3.2">2+</tspan></text>
<text x="107.9" y="476.7" fill="#00b0f0" font-family='"Liberation Sans", sans-serif' font-weight="bold" font-size="11.6">Co</text>
<text x="107.9" y="476.7" fill="#00b0f0" font-family='"Liberation Sans", sans-serif' font-weight="bold" font-size="11.6"><tspan visibility="hidden">Co</tspan><tspan font-size="7.7" dy="-3.2">2+</tspan></text>
<text x="135" y="458.7" fill="#00b0f0" font-family='"Liberation Sans", sans-serif' font-weight="bold" font-size="11.6">Mn</text>
<text x="135" y="458.7" fill="#00b0f0" font-family='"Liberation Sans", sans-serif' font-weight="bold" font-size="11.6"><tspan visibility="hidden">Mn</tspan><tspan font-size="7.7" dy="-3.2">2+</tspan></text>
<text x="199.8" y="449.2" fill="#00b0f0" font-family='"Liberation Sans", sans-serif' font-weight="bold" font-size="11.6">Ca</text>
<text x="199.8" y="449.2" fill="#00b0f0" font-family='"Liberation Sans", sans-serif' font-weight="bold" font-size="11.6"><tspan visibility="hidden">Ca</tspan><tspan font-size="7.7" dy="-3.2">2+</tspan></text>
<text x="279" y="423.7" fill="#00b0f0" font-family='"Liberation Sans", sans-serif' font-weight="bold" font-size="11.6">Sr</text>
<text x="279" y="423.7" fill="#00b0f0" font-family='"Liberation Sans", sans-serif' font-weight="bold" font-size="11.6"><tspan visibility="hidden">Sr</tspan><tspan font-size="7.7" dy="-3.2">2+</tspan></text>
<text x="352.5" y="411.3" fill="#00b0f0" font-family='"Liberation Sans", sans-serif' font-weight="bold" font-size="11.6">Ba</text>
<text x="352.5" y="411.3" fill="#00b0f0" font-family='"Liberation Sans", sans-serif' font-weight="bold" font-size="11.6"><tspan visibility="hidden">Ba</tspan><tspan font-size="7.7" dy="-3.2">2+</tspan></text>
</svg></body></html>
